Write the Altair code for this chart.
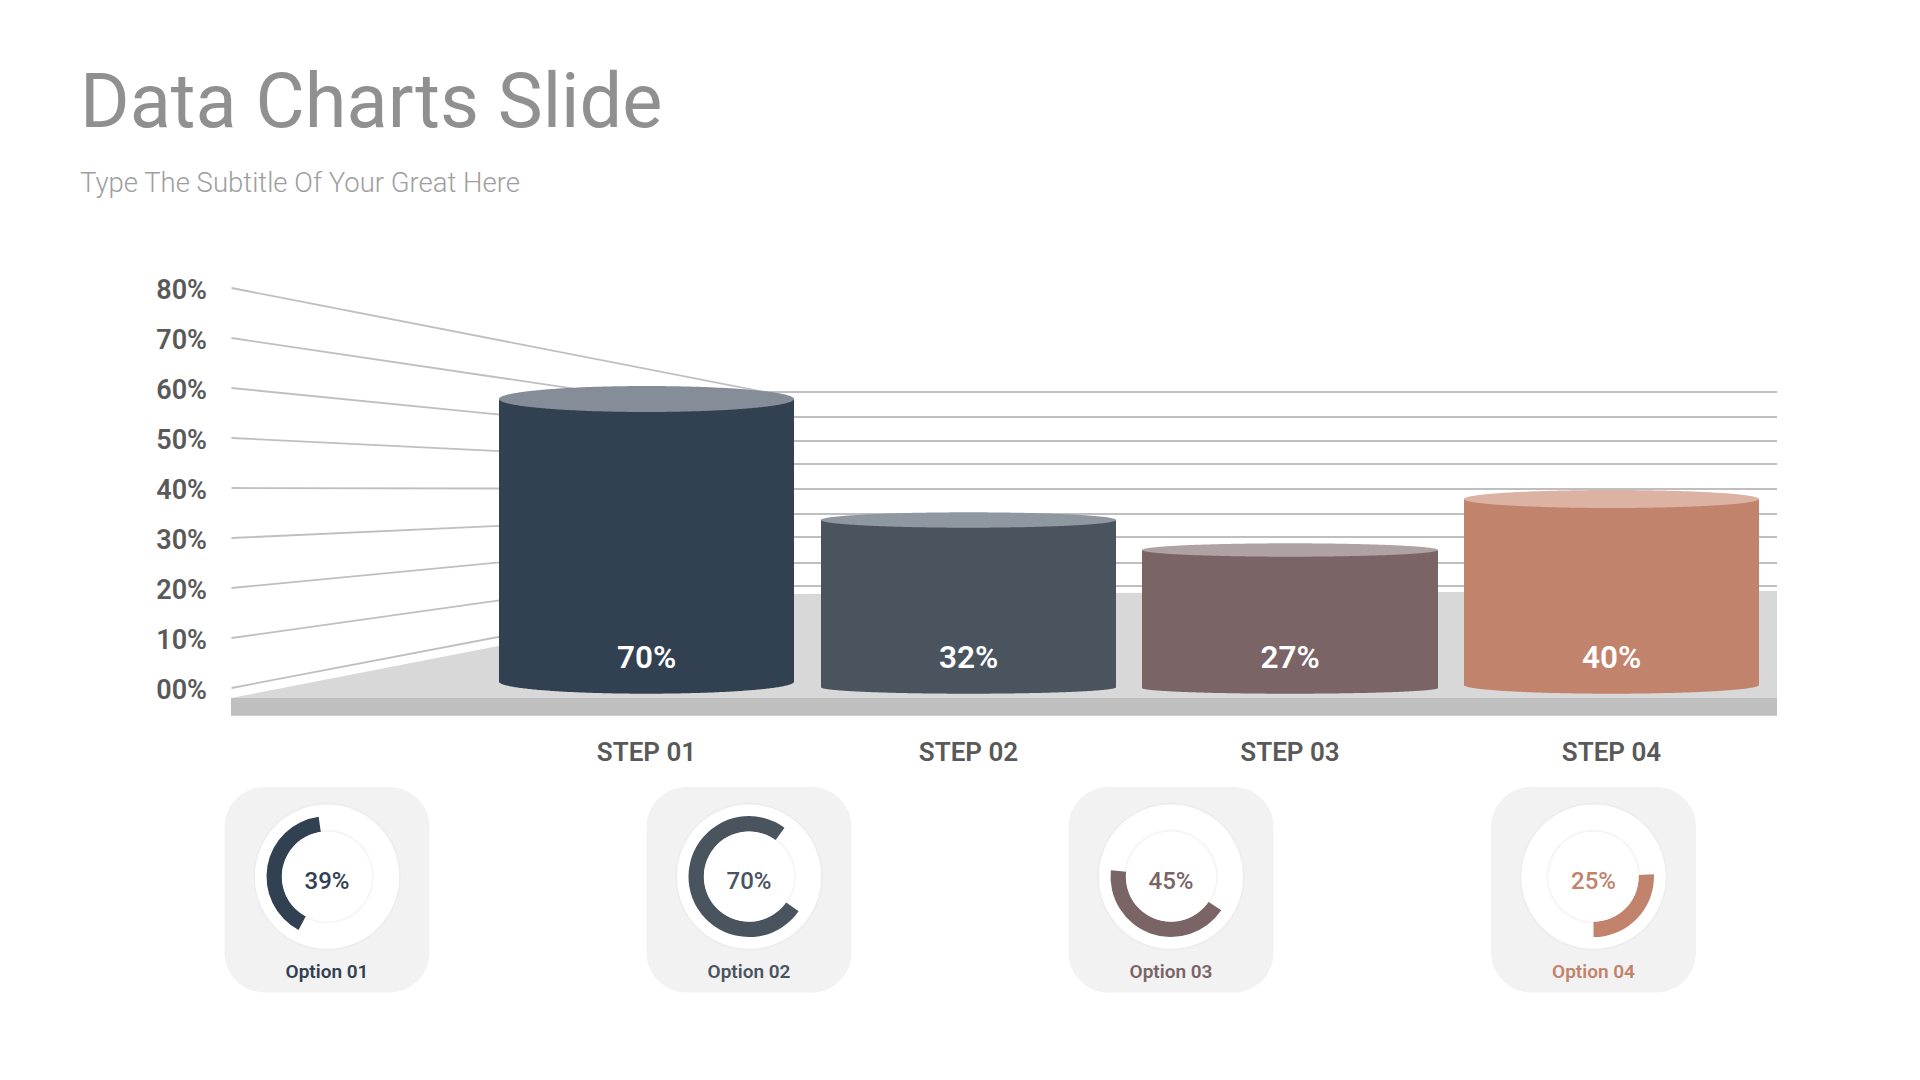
import altair as alt
import numpy as np
import pandas as pd

# ---- values ----
ticks = [0, 10, 20, 30, 40, 50, 60, 70, 80]
tick_labels = ["00%", "10%", "20%", "30%", "40%", "50%", "60%", "70%", "80%"]
wall_levels = [20.4, 25.0, 30.2, 34.8, 39.8, 44.8, 49.4, 54.2, 59.2]

steps = ["STEP 01", "STEP 02", "STEP 03", "STEP 04"]
step_labels = ["70%", "32%", "27%", "40%"]
drawn_levels = [57.8, 33.6, 27.6, 37.8]

options = ["Option 01", "Option 02", "Option 03", "Option 04"]
option_labels = ["39%", "70%", "45%", "25%"]
arc_start = [57.8, 34.7, 34.4, 24.4]
arc_end = [97.8, 110.0, 76.7, 50.0]

body_colors = ["#324152", "#4a545e", "#7a6466", "#c1836b"]
cap_colors = ["#858d99", "#8f98a0", "#afa2a3", "#dcb3a2"]

# ---- layout (slide pixels) ----
def lv(py):
    return (688 - np.asarray(py, dtype=float)) / 5.0

cyl_x0 = [499, 821, 1142, 1464]
cyl_x1 = [794, 1116, 1438, 1759]
cap_ry = [13, 7.7, 6.7, 9]
side_bottom = [681.7, 687.3, 688, 685]
lowest = 693.7
card_cx = [327, 749, 1171, 1593.5]
card_cy = 876.6

sx = alt.Scale(domain=[8, 1912], range=[0, 1904], nice=False, zero=False)
sy = alt.Scale(domain=[-76.8, 97.6], range=[872, 0], nice=False, zero=False)
st = alt.Scale(domain=[0, 100], range=[0, 6.283185307])
X = alt.X("x:Q", scale=sx, axis=None, title=None)
Y = alt.Y("y:Q", scale=sy, axis=None, title=None)
X2 = alt.X2("x2:Q")
Y2 = alt.Y2("y2:Q")
FONT = "Roboto"

# grid lines
persp = pd.DataFrame({"x": 231.5, "x2": 765.0, "y": ticks, "y2": wall_levels})
wall = pd.DataFrame({"x": 765.0, "x2": 1777.0, "y": wall_levels})
line_persp = alt.Chart(persp).mark_rule(color="#bfbfbf", strokeWidth=1.8).encode(X, Y, x2=X2, y2=Y2)
line_wall = alt.Chart(wall).mark_rule(color="#bfbfbf", strokeWidth=1.8).encode(X, Y, x2=X2)

# floor
floor_df = pd.DataFrame({"x": [231, 765, 1777], "y": lv([698, 594, 591]), "y2": lv([698, 698, 698])})
floor = alt.Chart(floor_df).mark_area(color="#d8d8d8", orient="vertical", interpolate="linear").encode(X, Y, y2=Y2)
strip_df = pd.DataFrame({"x": [231], "x2": [1777], "y": lv([698]), "y2": lv([715.7])})
strip = alt.Chart(strip_df).mark_rect(color="#bfbfbf").encode(X, Y, x2=X2, y2=Y2)

# cylinders
t = np.cos(np.linspace(np.pi, 0, 181))
half = np.sqrt(np.clip(1 - t ** 2, 0, None))
body_rows, cap_rows = [], []
for i in range(4):
    cx = (cyl_x0[i] + cyl_x1[i]) / 2
    rx = (cyl_x1[i] - cyl_x0[i]) / 2
    rb = lowest - side_bottom[i]
    for tt, h in zip(t, half):
        xx = cx + rx * tt
        body_rows.append({"x": xx, "y": drawn_levels[i],
                          "y2": float(lv(side_bottom[i] + rb * h)), "c": body_colors[i]})
        cap_rows.append({"x": xx, "y": drawn_levels[i] + cap_ry[i] * h / 5,
                         "y2": drawn_levels[i] - cap_ry[i] * h / 5, "c": cap_colors[i]})
C = alt.Color("c:N", scale=None)
bodies = alt.Chart(pd.DataFrame(body_rows)).mark_area(orient="vertical").encode(X, Y, y2=Y2, color=C)
caps = alt.Chart(pd.DataFrame(cap_rows)).mark_area(orient="vertical").encode(X, Y, y2=Y2, color=C)

# chart texts
tick_df = pd.DataFrame({"x": 207, "y": [float(v) for v in ticks], "t": tick_labels})
tick_text = alt.Chart(tick_df).mark_text(font=FONT, fontSize=27, fontWeight=600, color="#595959",
                                         align="right", baseline="middle", dy=2.6).encode(X, Y, text="t:N")
cyl_cx = [(a + b) / 2 for a, b in zip(cyl_x0, cyl_x1)]
value_df = pd.DataFrame({"x": cyl_cx, "y": float(lv(659.2)), "t": step_labels})
value_text = alt.Chart(value_df).mark_text(font=FONT, fontSize=31.5, fontWeight=600, color="#ffffff",
                                           align="center", baseline="middle").encode(X, Y, text="t:N")
step_df = pd.DataFrame({"x": cyl_cx, "y": float(lv(752.5)), "t": steps})
step_text = alt.Chart(step_df).mark_text(font=FONT, fontSize=26, fontWeight=600, color="#595959",
                                         align="center", baseline="middle").encode(X, Y, text="t:N")

# option cards
card_df = pd.DataFrame({"x": [c - 102.5 for c in card_cx], "x2": [c + 102.5 for c in card_cx],
                        "y": float(lv(787)), "y2": float(lv(992.5))})
cards = alt.Chart(card_df).mark_rect(color="#f2f2f2", cornerRadius=40).encode(X, Y, x2=X2, y2=Y2)
cent = pd.DataFrame({"x": card_cx, "y": float(lv(card_cy))})

def disc(r, color, opacity=1.0):
    return alt.Chart(cent).mark_circle(size=float(4 * r * r), color=color, opacity=opacity).encode(X, Y)

arc_df = pd.DataFrame({"x": card_cx, "y": float(lv(card_cy)), "s": arc_start, "e": arc_end, "c": body_colors})
arcs = alt.Chart(arc_df).mark_arc(radius=60.5, radius2=45).encode(
    X, Y,
    theta=alt.Theta("s:Q", scale=st, stack=None),
    theta2=alt.Theta2("e:Q"),
    color=C,
)
pct_df = pd.DataFrame({"x": card_cx, "y": float(lv(882.3)), "t": option_labels, "c": body_colors})
pct_text = alt.Chart(pct_df).mark_text(font=FONT, fontSize=24, fontWeight=500, align="center",
                                       baseline="middle").encode(X, Y, text="t:N", color=C)
opt_df = pd.DataFrame({"x": card_cx, "y": float(lv(971.7)), "t": options, "c": body_colors})
opt_text = alt.Chart(opt_df).mark_text(font=FONT, fontSize=19, fontWeight=600, align="center",
                                       baseline="middle").encode(X, Y, text="t:N", color=C)

chart = alt.layer(
    line_persp, line_wall, floor, strip, bodies, caps, tick_text, value_text, step_text,
    cards,
    disc(74, "#e9e9e9", 0.3), disc(73, "#e8e8e8", 0.5), disc(72.2, "#ffffff"),
    disc(47, "#f2f2f2", 0.5), disc(46, "#eeeeee", 0.6),
    arcs, disc(45.2, "#ffffff"),
    pct_text, opt_text,
).properties(
    width=1904,
    height=872,
    background="#ffffff",
    padding={"left": 0, "top": 192, "right": 0, "bottom": 0},
    autosize=alt.AutoSizeParams(type="none"),
    title=alt.TitleParams(
        text="Data Charts Slide",
        subtitle="Type The Subtitle Of Your Great Here",
        anchor="start", frame="group", orient="top", dx=72, offset=1.8,
        font=FONT, fontSize=75.7, fontWeight=400, color="#909090",
        subtitleFont=FONT, subtitleFontSize=27.5, subtitleFontWeight=300,
        subtitleColor="#9e9e9e", subtitlePadding=27.2,
    ),
).configure_view(stroke=None)

chart.save("out.html", embed_options={"renderer": "svg", "actions": False})
